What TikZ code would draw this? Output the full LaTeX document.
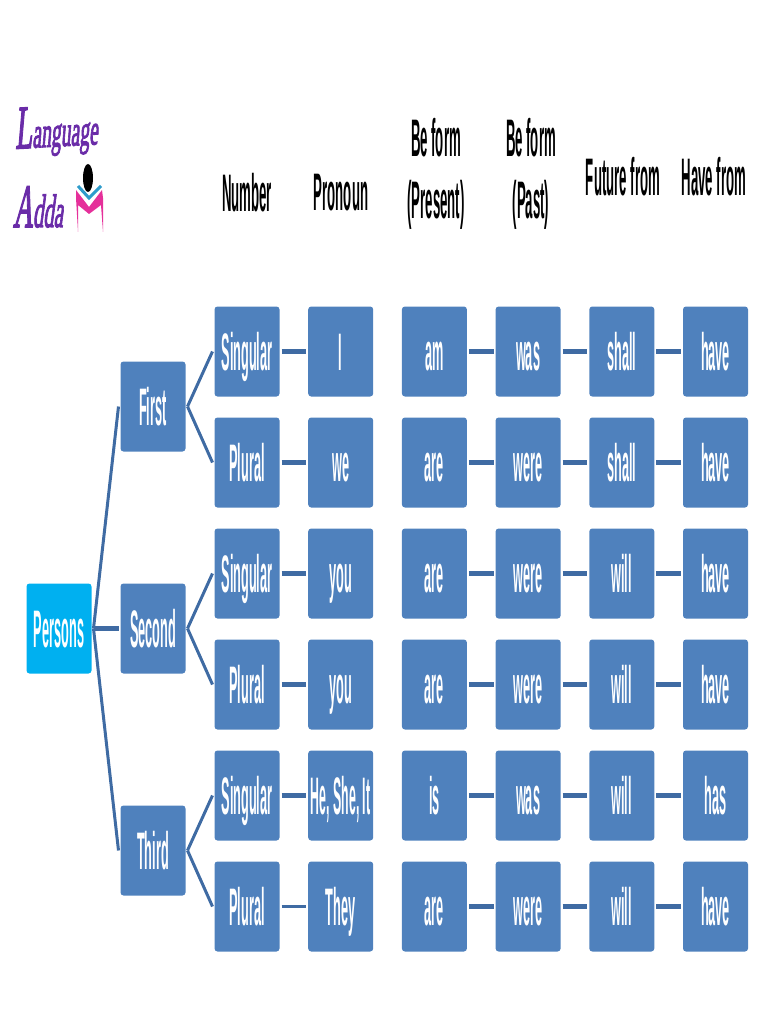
\documentclass[tikz,border=0pt]{standalone}
\usepackage{fontspec}
\setmainfont{Liberation Sans}
\newfontfamily\logofont[FakeBold=3,FakeSlant=0.3]{Liberation Serif}
\usetikzlibrary{positioning}
\definecolor{boxblue}{HTML}{4F81BD}
\definecolor{skyblue}{HTML}{00B0F0}
\definecolor{linkblue}{HTML}{3F6BA3}
\definecolor{logopurple}{HTML}{6A2CA8}
\definecolor{logopink}{HTML}{E5309A}
\definecolor{logocyan}{HTML}{2E9CCB}
\newcommand{\tall}[1]{\scalebox{1.06}[4.4]{\bfseries #1}}
\newcommand{\tallb}[1]{\scalebox{1.1}[4.4]{\bfseries #1}}
\begin{document}
\begin{tikzpicture}[x=1pt, y=-1pt, node distance=17pt and 24.7pt]
      \tikzstyle{word} = [font=\fontsize{12}{14}\selectfont, color=white, text height=44pt, text depth=6pt]
      \tikzstyle{cell} = [word, rectangle, rounded corners=3pt, fill=boxblue, minimum width=65pt, minimum height=90pt, inner sep=0pt, outer sep=2pt]
      \tikzstyle{head} = [font=\fontsize{12}{14}\selectfont, color=black, inner sep=0pt, align=center]
      \tikzstyle{link} = [draw=linkblue, line width=5pt]
      \tikzstyle{fan} = [draw=linkblue, line width=3pt]
      \tikzstyle{brand} = [color=logopurple, font=\logofont\fontsize{22}{24}\selectfont, inner sep=0pt]
      \useasboundingbox (0,0) rectangle (768,1024);
      % first two rows
      \node (sing1) [cell] at (247,351.5) {\tall{Singular}};
      \node (pron1) [cell, right=of sing1] {\tall{I}};
      \node (pres1) [cell, right=of pron1] {\tall{am}};
      \node (past1) [cell, right=of pres1] {\tall{was}};
      \node (futr1) [cell, right=of past1] {\tall{shall}};
      \node (have1) [cell, right=of futr1] {\tall{have}};
      \node (sing2) [cell, below=of sing1] {\tall{Plural}};
      \node (pron2) [cell, right=of sing2] {\tall{we}};
      \node (pres2) [cell, right=of pron2] {\tall{are}};
      \node (past2) [cell, right=of pres2] {\tall{were}};
      \node (futr2) [cell, right=of past2] {\tall{shall}};
      \node (have2) [cell, right=of futr2] {\tall{have}};
      % second two rows
      \node (sing3) [cell, below=of sing2] {\tall{Singular}};
      \node (pron3) [cell, right=of sing3] {\tall{you}};
      \node (pres3) [cell, right=of pron3] {\tall{are}};
      \node (past3) [cell, right=of pres3] {\tall{were}};
      \node (futr3) [cell, right=of past3] {\tall{will}};
      \node (have3) [cell, right=of futr3] {\tall{have}};
      \node (sing4) [cell, below=of sing3] {\tall{Plural}};
      \node (pron4) [cell, right=of sing4] {\tall{you}};
      \node (pres4) [cell, right=of pron4] {\tall{are}};
      \node (past4) [cell, right=of pres4] {\tall{were}};
      \node (futr4) [cell, right=of past4] {\tall{will}};
      \node (have4) [cell, right=of futr4] {\tall{have}};
      % third two rows
      \node (sing5) [cell, below=of sing4] {\tall{Singular}};
      \node (pron5) [cell, right=of sing5] {\scalebox{.97}[1]{\tall{He, She, It}}};
      \node (pres5) [cell, right=of pron5] {\tall{is}};
      \node (past5) [cell, right=of pres5] {\tall{was}};
      \node (futr5) [cell, right=of past5] {\tall{will}};
      \node (have5) [cell, right=of futr5] {\tall{has}};
      \node (sing6) [cell, below=of sing5] {\tall{Plural}};
      \node (pron6) [cell, right=of sing6] {\tall{They}};
      \node (pres6) [cell, right=of pron6] {\tall{are}};
      \node (past6) [cell, right=of pres6] {\tall{were}};
      \node (futr6) [cell, right=of past6] {\tall{will}};
      \node (have6) [cell, right=of futr6] {\tall{have}};
      % left side
      \node (first) [cell] at (153,406.5) {\tall{First}};
      \node (second) [cell] at (153,628.5) {\tall{Second}};
      \node (third) [cell] at (153,850.5) {\tall{Third}};
      \node (persons) [cell, fill=skyblue] at (59,628.5) {\tall{Persons}};
      % headers
      \node (number) [head] at (247,193) {\tallb{Number}};
      \node (pronoun) [head] at (341,193) {\tallb{Pronoun}};
      \node (bepres) [head] at (436,174) {\tallb{Be form}\\[22pt]\tallb{(Present)}};
      \node (bepast) [head] at (531,174) {\tallb{Be form}\\[22pt]\tallb{(Past)}};
      \node (future) [head] at (623,177) {\tallb{Future from}};
      \node (havefrom) [head] at (714,177) {\tallb{Have from}};
      % connectors
      \draw [fan] (persons.east) -- (first.west);
      \draw [link] (persons.east) -- (second.west);
      \draw [fan] (persons.east) -- (third.west);
      \draw [fan] (first.east) -- (sing1.west);
      \draw [fan] (first.east) -- (sing2.west);
      \draw [fan] (second.east) -- (sing3.west);
      \draw [fan] (second.east) -- (sing4.west);
      \draw [fan] (third.east) -- (sing5.west);
      \draw [fan] (third.east) -- (sing6.west);
      \draw [link] (sing1) -- (pron1);
      \draw [link] (sing2) -- (pron2);
      \draw [link] (sing3) -- (pron3);
      \draw [link] (sing4) -- (pron4);
      \draw [link] (sing5) -- (pron5);
      \draw [fan] (sing6) -- (pron6);
      \draw [link] (pres1) -- (past1) -- (futr1) -- (have1);
      \draw [link] (pres2) -- (past2) -- (futr2) -- (have2);
      \draw [link] (pres3) -- (past3) -- (futr3) -- (have3);
      \draw [link] (pres4) -- (past4) -- (futr4) -- (have4);
      \draw [link] (pres5) -- (past5) -- (futr5) -- (have5);
      \draw [link] (pres6) -- (past6) -- (futr6) -- (have6);
      % logo
      \node (language) [brand, rotate=3] at (56,131) {\scalebox{.82}[1.8]{\fontsize{34}{36}\selectfont L\fontsize{24}{26}\selectfont anguage}};
      \node (adda) [brand] at (38,207) {\scalebox{.8}[1.8]{\fontsize{34}{36}\selectfont A\fontsize{26}{28}\selectfont dda}};
      \fill [black] (88,178) ellipse (5 and 14);
      \draw [logocyan, line width=3pt] (78,186) -- (89,198) -- (101,186);
      \fill [logopink] (76,190) -- (89,207) -- (102,190) -- (103,198) -- (103,232) -- (101,205) -- (89,214) -- (78,205) -- (78,232) -- (76,198) -- cycle;
    \end{tikzpicture}
\end{document}
